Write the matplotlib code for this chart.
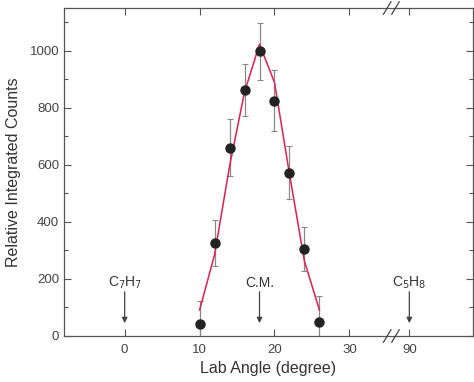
import numpy as np
import matplotlib.pyplot as plt
from matplotlib.ticker import MultipleLocator

plt.rcParams['font.family'] = ['Liberation Sans', 'DejaVu Sans']

# measured points (lab angle in degrees)
angle = [10, 12, 14, 16, 18, 20, 22, 24, 26]
counts = [42, 326, 660, 862, 998, 825, 573, 305, 49]
err = [82, 82, 100, 92, 100, 108, 92, 77, 92]

# fitted curve
fit_angle = [10, 12, 14, 16, 18, 20, 22, 24, 26]
fit_counts = [91, 285, 595, 855, 1023, 889, 568, 262, 91]

# markers for beam / CM directions
mark_angle = [0, 18, 90]
mark_label = ['C$_7$H$_7$', 'C.M.', 'C$_5$H$_8$']

tick_vals = [0, 10, 20, 30, 90]
tick_text = ['0', '10', '20', '30', '90']


def pos(x):
    # broken x axis: everything past the break is shifted left
    x = np.asarray(x, dtype=float)
    return np.where(x > 35, x - 52, x)


gray = '#555555'
fig = plt.figure(figsize=(4.74, 3.82), dpi=100)
ax = fig.add_axes([64 / 474, 46 / 382, 409 / 474, 328 / 382])

ax.errorbar(pos(angle), counts, yerr=err, fmt='none', ecolor='#888888',
            elinewidth=0.9, capsize=2.5, capthick=0.8, zorder=2)
ax.plot(pos(fit_angle), fit_counts, color='#e0204a', lw=1.1, zorder=3)
ax.plot(pos(angle), counts, 'o', color='#222222', ms=6.5, zorder=4, clip_on=False)

for a, lab in zip(mark_angle, mark_label):
    p = float(pos(a))
    ax.annotate('', xy=(p, 45), xytext=(p, 155),
                arrowprops=dict(arrowstyle='-|>', color='#444444', lw=0.9,
                                mutation_scale=8, shrinkA=0, shrinkB=0))
    ax.text(p, 185, lab, ha='center', va='center', fontsize=10, color='#333333')

ax.set_xlim(-8.1, 46.5)
ax.set_ylim(0, 1150)
ax.set_xticks(pos(tick_vals))
ax.set_xticklabels(tick_text)
ax.yaxis.set_major_locator(MultipleLocator(200))
ax.yaxis.set_minor_locator(MultipleLocator(100))
ax.tick_params(which='both', direction='in', top=True, right=True,
               colors=gray, labelcolor='#444444', labelsize=9.5, width=0.8)
ax.tick_params(which='major', length=5)
ax.tick_params(which='minor', length=3)
ax.tick_params(axis='x', pad=6)
for s in ax.spines.values():
    s.set_color(gray)
    s.set_linewidth(0.9)

ax.set_xlabel('Lab Angle (degree)', fontsize=11.5, color='#333333', labelpad=3)
ax.set_ylabel('Relative Integrated Counts', fontsize=11.5, color='#333333', labelpad=6)

# axis break marks (positions in the shifted axis coordinates)
bx = 35.6
for yb in (0, 1150):
    for dx in (-0.55, 0.55):
        ax.plot([bx + dx - 0.5, bx + dx + 0.5], [yb - 22, yb + 22],
                color='#444444', lw=0.9, clip_on=False, zorder=5)

fig.savefig('out.png', dpi=100)
